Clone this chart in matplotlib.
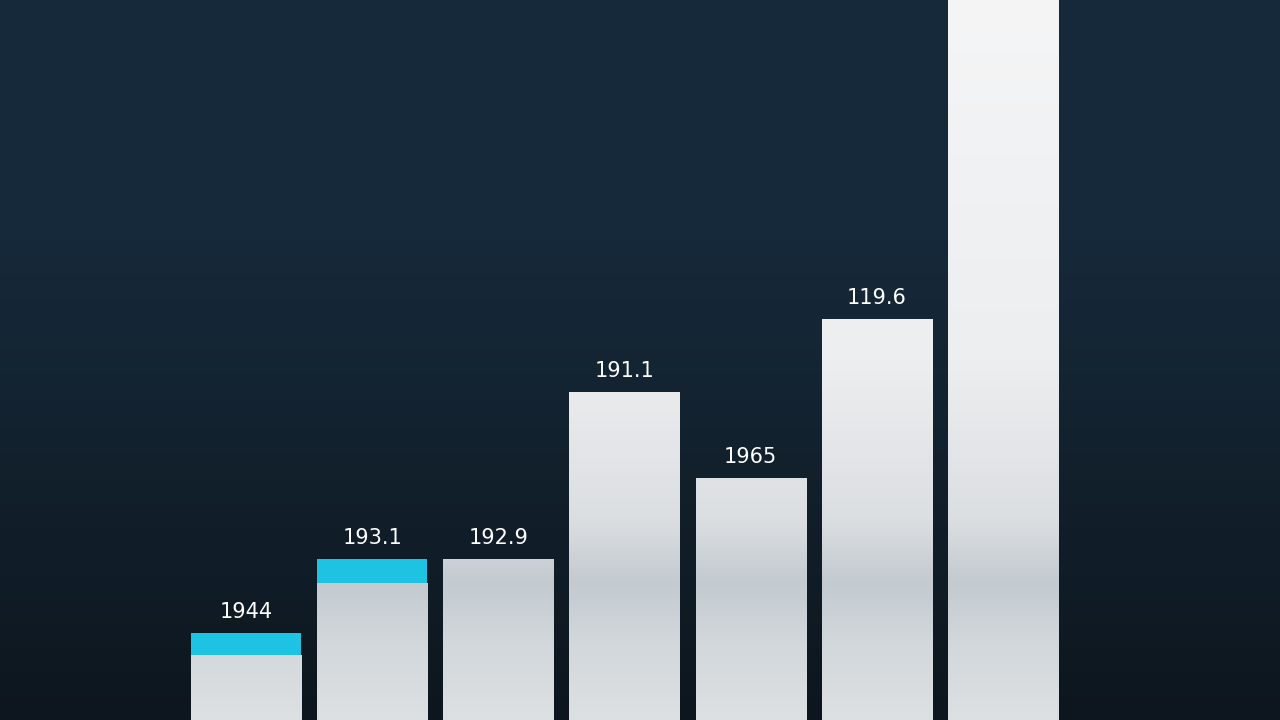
import numpy as np
import matplotlib
matplotlib.use("Agg")
import matplotlib.pyplot as plt
from matplotlib.colors import LinearSegmentedColormap

# Data (heights in chart units; labels as printed on the chart)
categories = ["A", "B", "C", "D", "E", "F", "G"]
values = [87, 161, 161, 328, 242, 401, 780]
cap_values = [22, 24, 0, 0, 0, 0, 0]
labels = ["1944", "193.1", "192.9", "191.1", "1965", "119.6", ""]

XMIN, XMAX = -1.956, 8.202

fig = plt.figure(figsize=(12.8, 7.2), dpi=100)
ax = fig.add_axes([0, 0, 1, 1])
x = np.arange(len(categories))
ax.axis("off")

# background gradient
bg = LinearSegmentedColormap.from_list("bg", ["#0d161e", "#12202c", "#16293a", "#172a3b"])
grad = np.linspace(0, 1, 256).reshape(-1, 1)
ax.imshow(grad, cmap=bg, aspect="auto", extent=[XMIN, XMAX, 0, 720],
          origin="lower", zorder=0)

width = 0.873
bar_cmap = LinearSegmentedColormap.from_list(
    "bar", [(0, "#dde0e3"), (0.1, "#d3d8dc"), (0.19, "#c3cad0"),
            (0.28, "#dcdfe2"), (0.5, "#eceeef"), (1, "#f5f5f6")])

bodies = [v - c for v, c in zip(values, cap_values)]
bars = ax.bar(x, bodies, width=width, color="#e6e8ea", zorder=2)
for b in bars:
    x0 = b.get_x()
    im = ax.imshow(np.linspace(0, 1, 256).reshape(-1, 1), cmap=bar_cmap,
                   aspect="auto", origin="lower",
                   extent=[x0, x0 + width, 0, 720], zorder=3)
    im.set_clip_path(b)

ax.bar(x, cap_values, bottom=bodies, width=width, color="#1ec3e3", zorder=4)

for xi, v, lab in zip(x, values, labels):
    if lab:
        ax.text(xi, v + 21, lab, ha="center", va="center", color="white",
                fontsize=15, zorder=5)

ax.set_xlim(XMIN, XMAX)
ax.set_ylim(0, 720)
fig.savefig("out.png", dpi=100)
